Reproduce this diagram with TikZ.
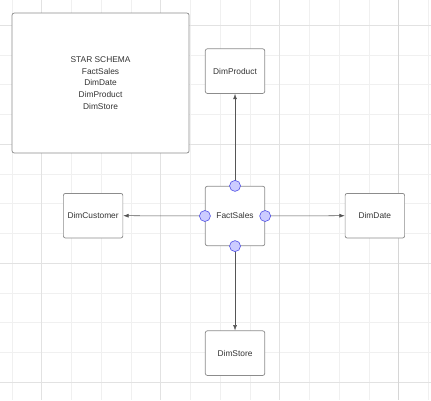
\documentclass[tikz,border=0pt]{standalone}
\usepackage{fontspec}
\setmainfont{Liberation Sans}
\usetikzlibrary{arrows.meta,positioning}
\definecolor{GridMinor}{RGB}{240,240,240}
\definecolor{GridMajor}{RGB}{226,226,226}
\definecolor{PageLine}{RGB}{214,214,214}
\definecolor{BoxLine}{RGB}{140,140,140}
\definecolor{TextGray}{RGB}{51,51,51}
\definecolor{EdgeGray}{RGB}{85,85,85}
\definecolor{PortFill}{RGB}{204,204,255}
\definecolor{PortLine}{RGB}{85,85,230}

\begin{document}
\begin{tikzpicture}[
  tbl/.style={draw=BoxLine, line width=0.7pt, rounded corners=2pt, fill=white, text=TextGray, font=\fontsize{8}{11.3}\selectfont, align=center, inner sep=0pt},
  link/.style={-{Latex[length=1.8mm,width=1.3mm]}, EdgeGray, line width=0.5pt},
  port/.style={circle, draw=PortLine, fill=PortFill, line width=0.6pt, minimum size=3.7mm, inner sep=0pt}
]
\useasboundingbox (0,0) rectangle (14.487,-13.445);
\foreach \x in {0,...,14} \draw[GridMinor, line width=0.6pt] ({0.4+\x},0) -- ({0.4+\x},-13.445);
\foreach \y in {0,...,12} \draw[GridMinor, line width=0.6pt] (0,{-0.85-\y}) -- (14.487,{-0.85-\y});
\foreach \x in {1.4,5.4,9.4} \draw[GridMajor, line width=0.6pt] (\x,0) -- (\x,-13.445);
\foreach \y in {0.85,4.85,8.85,12.85} \draw[GridMajor, line width=0.6pt] (0,-\y) -- (14.487,-\y);
\draw[PageLine, line width=0.9pt] (13.4,0) -- (13.4,-13.445);

\node[tbl, minimum width=5.95cm, minimum height=4.7cm] (legend) at (3.38,-2.79) {STAR SCHEMA\\FactSales\\DimDate\\DimProduct\\DimStore};
\node[tbl, minimum width=2cm, minimum height=2cm] (fact) at (7.9,-7.26) {FactSales};
\node[tbl, minimum width=2cm, minimum height=1.5cm] (product) at (7.9,-2.39) {DimProduct};
\node[tbl, minimum width=2cm, minimum height=1.5cm] (customer) at (3.13,-7.25) {DimCustomer};
\node[tbl, minimum width=2cm, minimum height=1.5cm] (date) at (12.6,-7.25) {DimDate};
\node[tbl, minimum width=2cm, minimum height=1.5cm] (store) at (7.9,-11.87) {DimStore};

\draw[link] (fact.north) -- (product.south);
\draw[link] (fact.west) -- (customer.east);
\draw[link] (fact.east) -- (date.west);
\draw[link] (fact.south) -- (store.north);

\node[port] (pnorth) at (fact.north) {};
\node[port] (pwest) at (fact.west) {};
\node[port] (peast) at (fact.east) {};
\node[port] (psouth) at (fact.south) {};
\end{tikzpicture}
\end{document}
